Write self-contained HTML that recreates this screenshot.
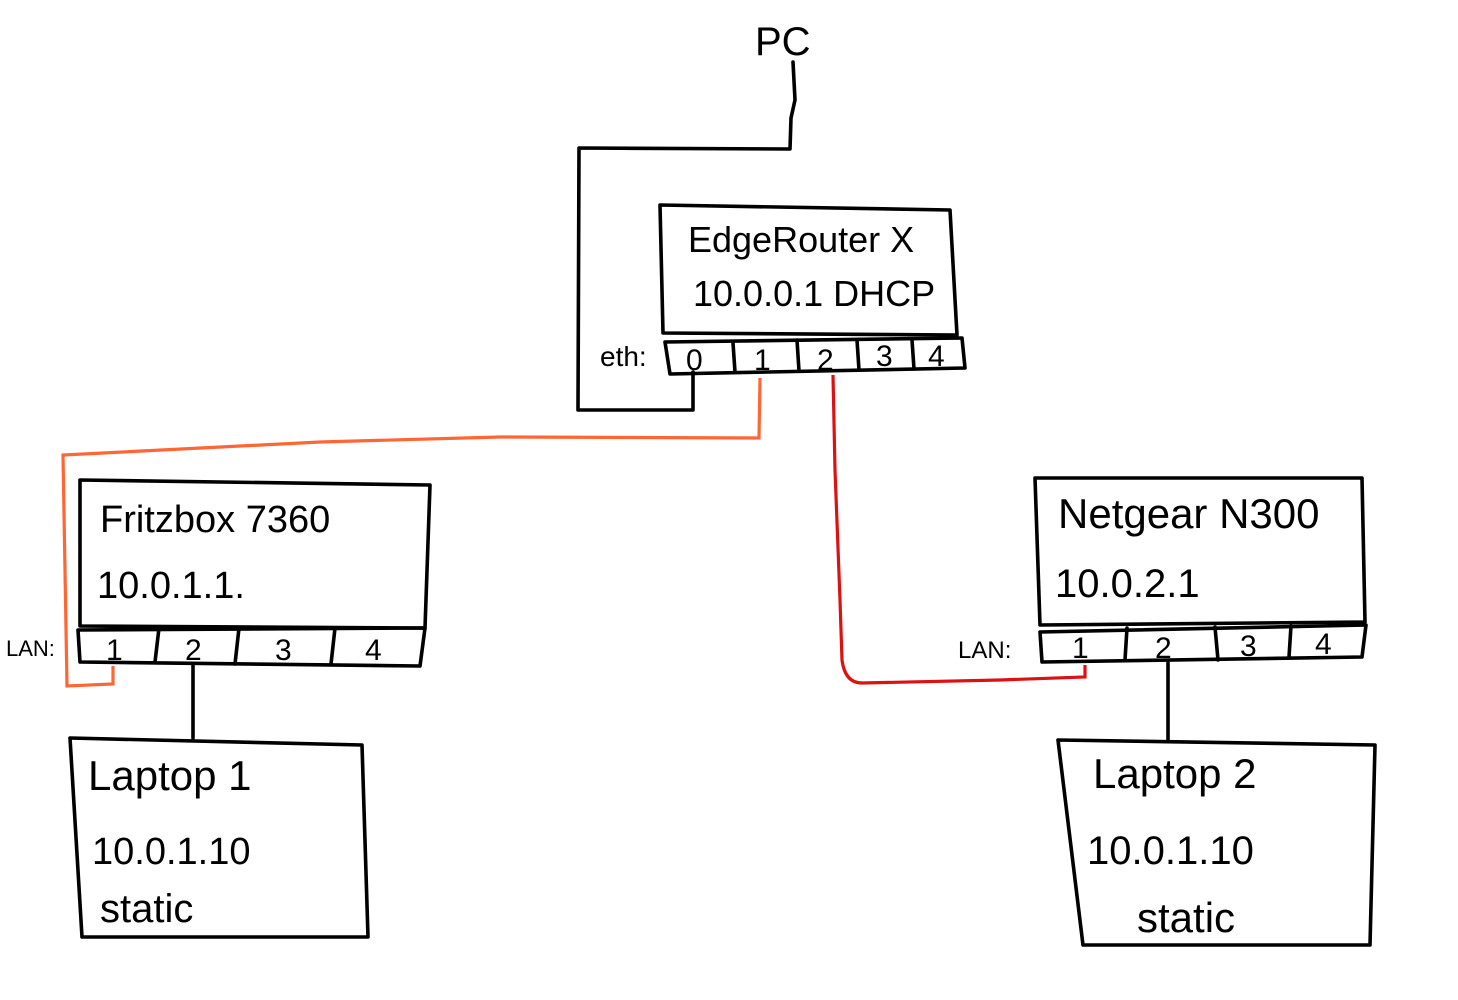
<!DOCTYPE html>
<html><head><meta charset="utf-8"><style>
html,body{margin:0;padding:0;background:#fff;}
svg{display:block;}
text{font-family:"Liberation Sans Narrow","Liberation Sans",sans-serif;fill:#000;}
</style></head><body>
<svg width="1458" height="1000" viewBox="0 0 1458 1000" xmlns="http://www.w3.org/2000/svg">
<g fill="none" stroke="#000" stroke-width="3.6" stroke-linejoin="round" stroke-linecap="round">
<path d="M793,62 L795,100 L791,118 L790,149 L579,148 L578,410 L693,410 L693,372"/>
<path d="M660,205 L950,210 L957,335 L663,333 Z"/>
<path d="M665,342 L962,338 L965,368 L670,374 Z"/>
<path d="M733,343 L735,372 M797,340 L799,371 M857,340 L859,370 M912,340 L914,369"/>
<path d="M80,480 L430,485 L425,628 L80,626 Z"/>
<path d="M78,630 L425,628 L420,666 L80,662 Z"/>
<path d="M159,628 L155,662 M239,628 L235,664 M335,628 L331,664"/>
<path d="M193,665 L193,738"/>
<path d="M70,738 L362,745 L368,937 L82,937 Z"/>
<path d="M1035,478 L1362,478 L1365,622 L1040,625 Z"/>
<path d="M1040,632 L1366,625 L1362,657 L1042,662 Z"/>
<path d="M1127,628 L1125,660 M1215,627 L1218,660 M1291,626 L1289,657"/>
<path d="M1168,663 L1168,740"/>
<path d="M1058,740 L1375,745 L1370,945 L1083,945 Z"/>
</g>
<path d="M760,378 L759,438 L500,437 L320,442 L63,455 L67,686 L113,684 L113,666" fill="none" stroke="#ff6633" stroke-width="3.2"/>
<path d="M833,375 L835,470 L840,600 L842,660 Q845,683 862,683 L1000,680 L1085,677 L1085,665" fill="none" stroke="#dd1111" stroke-width="3.2"/>
<text x="755" y="55" font-size="40">PC</text>
<text x="688" y="252" font-size="36">EdgeRouter X</text>
<text x="693" y="306" font-size="36">10.0.0.1 DHCP</text>
<text x="600" y="366" font-size="28">eth:</text>
<g font-size="30">
<text x="686" y="370">0</text><text x="754" y="370">1</text><text x="817" y="370">2</text><text x="876" y="366">3</text><text x="928" y="366">4</text>
</g>
<text x="100" y="532" font-size="38">Fritzbox 7360</text>
<text x="97" y="598" font-size="38">10.0.1.1.</text>
<text x="6" y="656" font-size="22">LAN:</text>
<g font-size="30">
<text x="106" y="660">1</text><text x="185" y="660">2</text><text x="275" y="660">3</text><text x="365" y="660">4</text>
</g>
<text x="88" y="790" font-size="42">Laptop 1</text>
<text x="92" y="864" font-size="38">10.0.1.10</text>
<text x="100" y="922" font-size="40">static</text>
<text x="1058" y="528" font-size="42">Netgear N300</text>
<text x="1055" y="597" font-size="40">10.0.2.1</text>
<text x="958" y="658" font-size="24">LAN:</text>
<g font-size="30">
<text x="1072" y="658">1</text><text x="1155" y="658">2</text><text x="1240" y="656">3</text><text x="1315" y="654">4</text>
</g>
<text x="1093" y="788" font-size="42">Laptop 2</text>
<text x="1087" y="864" font-size="40">10.0.1.10</text>
<text x="1137" y="932" font-size="42">static</text>
</svg>
</body></html>
